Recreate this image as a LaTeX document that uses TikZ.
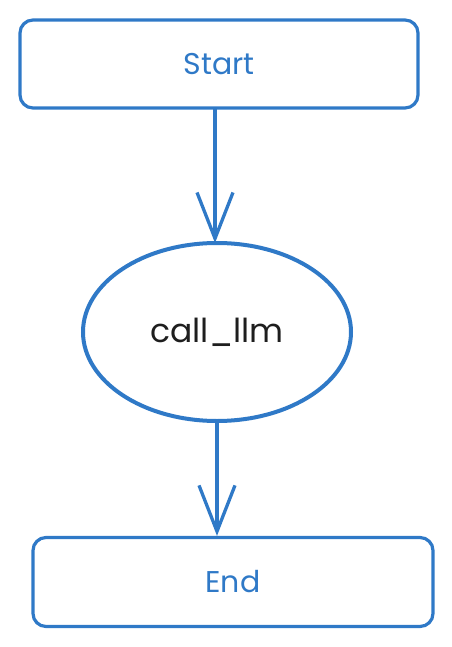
\documentclass[tikz,border=0pt]{standalone}
\usepackage{fontspec}
\setmainfont{Poppins}
\usetikzlibrary{arrows.meta,shapes.geometric}
\definecolor{exblue}{RGB}{47,121,199}
\definecolor{exink}{RGB}{30,30,30}
\tikzset{
  boxnode/.style={draw=exblue, line width=3.2pt, rounded corners=13pt, minimum width=398pt, minimum height=88pt, text=exblue, font=\fontsize{30}{34}\selectfont},
  ellnode/.style={draw=exblue, line width=4pt, ellipse, minimum width=268pt, minimum height=178pt, text=exink, font=\fontsize{33}{38}\selectfont},
  flow/.style={draw=exblue, line width=3.3pt, line cap=round, -{Straight Barb[length=46pt,width=36pt,line width=3.3pt]}}
}
\begin{document}
\begin{tikzpicture}[x=1pt,y=-1pt]
\useasboundingbox (0,0) rectangle (451,647);
\node[boxnode] (start) at (219,64) {Start};
\node[ellnode] (llm) at (217,332) {call\_llm};
\node[boxnode, minimum width=400pt, minimum height=89pt] (end) at (233,582) {End};
\draw[flow] (start.south -| 215,0) -- (215,243);
\draw[flow] (llm.south) -- (end.north -| llm.south);
\end{tikzpicture}
\end{document}
